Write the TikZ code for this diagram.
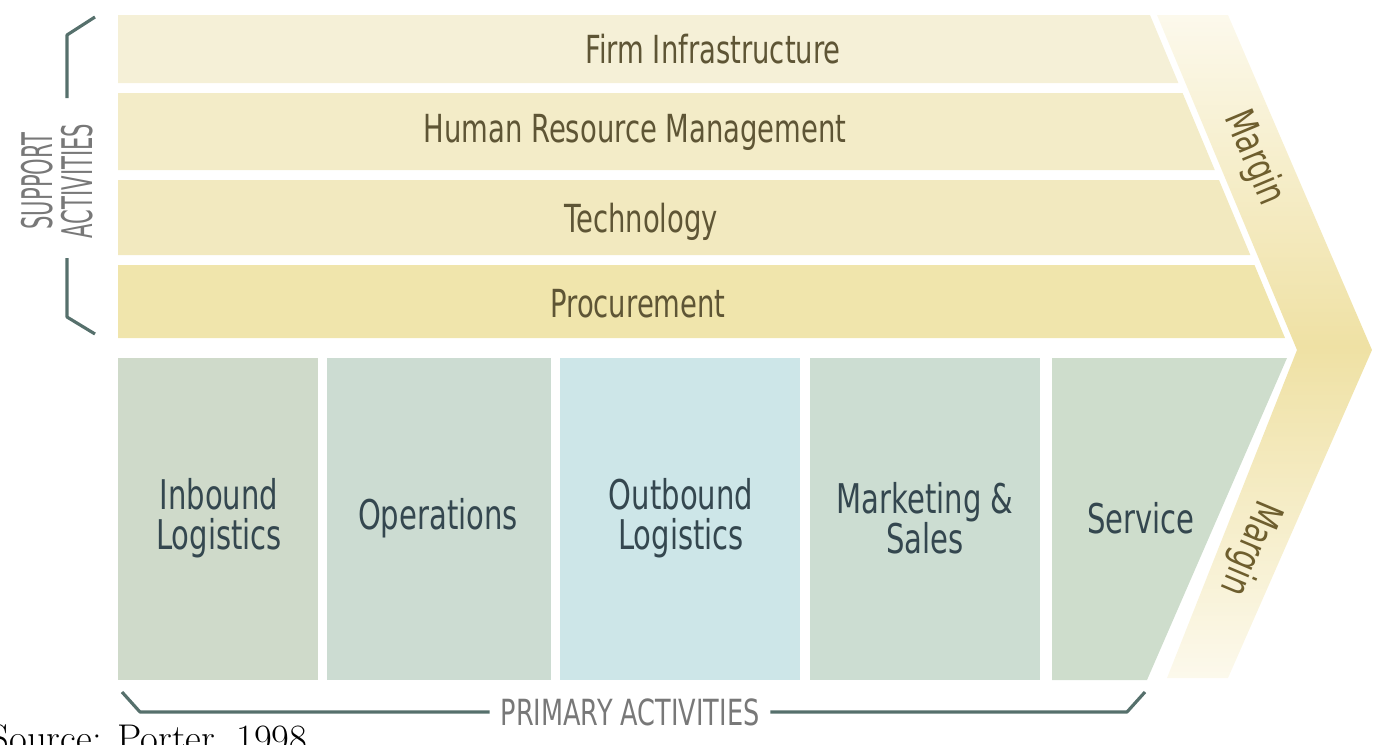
\documentclass[tikz,border=0pt]{standalone}
\usepackage{fontspec}
\usepackage{tikz}
\newfontfamily\vcfont[FakeStretch=0.71]{DejaVu Sans}
\newfontfamily\vcnarrow[FakeStretch=0.5]{DejaVu Sans}
\definecolor{barA}{HTML}{F5F0D7}
\definecolor{barB}{HTML}{F3ECC8}
\definecolor{barC}{HTML}{F2E9BF}
\definecolor{barD}{HTML}{F0E5AC}
\definecolor{inb}{HTML}{CFDACA}
\definecolor{ops}{HTML}{CCDCD2}
\definecolor{outb}{HTML}{CDE6E8}
\definecolor{mkt}{HTML}{CCDDD2}
\definecolor{srv}{HTML}{CEDDCC}
\definecolor{bandlight}{HTML}{FCF9EC}
\definecolor{banddark}{HTML}{EFE1A4}
\definecolor{suptext}{HTML}{5E5535}
\definecolor{primtext}{HTML}{34474F}
\definecolor{margtext}{HTML}{6E5E2E}
\definecolor{brack}{HTML}{56706C}
\definecolor{graytext}{HTML}{787878}
\begin{document}
\begin{tikzpicture}[x=0.02cm,y=-0.02cm]
  \tikzstyle{suplabel}=[font=\fontsize{22}{26}\selectfont\vcfont,text=suptext,inner sep=0pt,anchor=base]
  \tikzstyle{primlabel}=[font=\fontsize{23.3}{23}\selectfont\vcfont,text=primtext,align=center,inner sep=0pt]
  \tikzstyle{marglabel}=[font=\fontsize{23}{26}\selectfont\vcfont,text=margtext,inner sep=0pt]
  \tikzstyle{brace}=[draw=brack,line width=1.8pt,line join=round]
  \useasboundingbox (0,0) rectangle (1373,744);
  \clip (0,0) rectangle (1373,744);
  % margin band
  \shade[top color=bandlight,bottom color=bandlight,middle color=banddark]
    (1157,15) -- (1228,15) -- (1372,350) -- (1228,678) -- (1167,678) -- (1297,350) -- cycle;
  \node[marglabel,rotate=-67.3] (margup) at (1254,158) {Margin};
  \node[marglabel,rotate=-112.8] (marglow) at (1250,548) {Margin};
  % support activities
  \foreach \ya/\yb/\col in {15/83/barA,93/170/barB,180/255/barC,265/338/barD}{
    \fill[\col] (118,\ya) -- ({1150+0.418*(\ya-15)},\ya) -- ({1150+0.418*(\yb-15)},\yb) -- (118,\yb) -- cycle;
  }
  \node[suplabel] (firm) at (713,63) {Firm Infrastructure};
  \node[suplabel] (hrm) at (635,142) {Human Resource Management};
  \node[suplabel] (tech) at (641,232) {Technology};
  \node[suplabel] (proc) at (638,317) {Procurement};
  % primary activities
  \foreach \xa/\xb/\col in {118/318/inb,327/551/ops,560/800/outb,810/1040/mkt}{
    \fill[\col] (\xa,358) rectangle (\xb,680);
  }
  \fill[srv] (1052,358) -- (1287,358) -- (1147,680) -- (1052,680) -- cycle;
  \node[primlabel] (inbound) at (219,518) {Inbound\\Logistics};
  \node[primlabel] (oper) at (438,518) {Operations};
  \node[primlabel] (outbound) at (681,518) {Outbound\\Logistics};
  \node[primlabel] (market) at (925,518) {Marketing \&\\Sales};
  \node[primlabel] (service) at (1141,518) {Service};
  % brackets
  \node[rotate=90,align=center,text=graytext,inner sep=0pt,
    font=\fontsize{24}{22.5}\selectfont\vcnarrow] (sa) at (57,181) {SUPPORT\\ACTIVITIES};
  \draw[brace] (95,17) -- (67,35) -- (67,98);
  \draw[brace] (67,258) -- (67,317) -- (95,334);
  \node[text=graytext,inner xsep=6pt,inner ysep=0pt,
    font=\fontsize{20.5}{24}\selectfont\vcfont] (pa) at (630,712) {PRIMARY ACTIVITIES};
  \draw[brace] (122,692) -- (140,712) -- (pa.west);
  \draw[brace] (pa.east) -- (1127,712) -- (1145,692);
  \node[anchor=base west,inner sep=0pt,font=\fontsize{22}{26}\selectfont\rmfamily] (src) at (-10.6,751) {Source: Porter, 1998};
\end{tikzpicture}
\end{document}
